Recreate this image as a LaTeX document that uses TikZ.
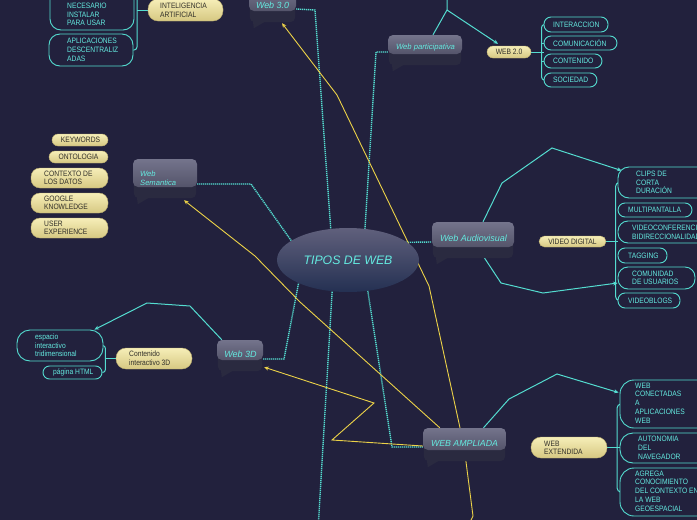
\documentclass[tikz,border=0pt]{standalone}
\usepackage{fontspec}
\setmainfont{Liberation Sans}
\newfontfamily\smallfont[FakeStretch=0.86]{Liberation Sans}
\usetikzlibrary{arrows.meta,shapes.geometric,calc,fit}
\pgfdeclarelayer{back}
\pgfdeclarelayer{lines}
\pgfdeclarelayer{bubbles}
\pgfsetlayers{back,lines,bubbles,main}
\definecolor{bgc}{RGB}{34,33,61}
\definecolor{cyline}{RGB}{84,220,208}
\definecolor{cytxt}{RGB}{100,234,224}
\definecolor{ylc}{RGB}{236,210,72}
\definecolor{pilltop}{RGB}{246,238,184}
\definecolor{pillbot}{RGB}{214,200,130}
\definecolor{pillline}{RGB}{190,176,112}
\definecolor{pilltxt}{RGB}{48,46,40}
\definecolor{boxtop}{RGB}{116,116,140}
\definecolor{boxbot}{RGB}{84,84,106}
\definecolor{bubc}{RGB}{42,42,64}
\definecolor{elltop}{RGB}{96,96,124}
\definecolor{ellbot}{RGB}{36,48,82}
\newcommand\drawbubble[1]{%
  \fill[bubc, rounded corners=5pt] ($(#1.south west)+(1,-8)$) rectangle ($(#1.south east)+(-1,11)$);
  \fill[bubc] ($(#1.south west)+(4,9)$) -- ($(#1.south west)+(5,17)$) -- ($(#1.south west)+(17,10)$) -- cycle;}
\begin{document}
\begin{tikzpicture}[x=1pt,y=-1pt,
  ob/.style={draw=cyline, line width=0.9pt, fill=bgc, inner sep=0pt, rounded corners=#1},
  pl/.style={inner sep=0pt, top color=pilltop, bottom color=pillbot, draw=pillline, line width=0.4pt, rounded corners=#1},
  tb/.style={inner sep=0pt, top color=boxtop, bottom color=boxbot, rounded corners=5pt},
  st/.style={text=cytxt, inner sep=0pt, align=left, anchor=west, font=\smallfont\fontsize{7.8}{8.7}\selectfont},
  pt/.style={st, text=pilltxt},
  tt/.style={text=cytxt, inner sep=0pt, align=left, font=\itshape\fontsize{#1}{9}\selectfont},
  dotc/.style={cyline, line width=1.4pt, dash pattern=on 1.2pt off 0.8pt},
  solc/.style={cyline, line width=1pt},
  ylw/.style={ylc, line width=0.9pt},
  arr/.style={-{Stealth[length=4.5pt,width=4pt]}}
]
\useasboundingbox (0,0) rectangle (697,520);
\begin{pgfonlayer}{back}
\fill[bgc] (0,0) rectangle (697,520);
\end{pgfonlayer}

% ---------- central ellipse
\node[ellipse, minimum width=142, minimum height=64, inner sep=0pt,
      top color=elltop, bottom color=ellbot, text=cytxt,
      font=\itshape\fontsize{12.3}{12}\selectfont] (center) at (348,260) {TIPOS DE WEB};

% ---------- topic boxes
\node[tb, fit={(249,-12) (296,11)}] (web30) {};
\node[tt=8.9, anchor=center] (web30t) at (272.5,5.5) {Web 3.0};
\node[tb, fit={(388,35) (462,54)}] (webpart) {};
\node[tt=7.7, anchor=center] (webpartt) at (425.5,48) {Web participativa};
\node[tb, fit={(133,159) (197,187)}] (websem) {};
\node[tt=7.6, anchor=west] (websemt) at (140,178.5) {Web\\Semantica};
\node[tb, fit={(432,222) (514,247)}] (webav) {};
\node[tt=9, anchor=center] (webavt) at (473.5,238) {Web Audiovisual};
\node[tb, fit={(217,340) (263,360)}] (web3d) {};
\node[tt=9, anchor=center] (web3dt) at (240.5,354) {Web 3D};
\node[tb, fit={(423,428) (506,450)}] (webamp) {};
\node[tt=8.8, anchor=center] (webampt) at (464.5,443) {WEB AMPLIADA};

\begin{pgfonlayer}{bubbles}
\drawbubble{web30}
\drawbubble{webpart}
\drawbubble{websem}
\drawbubble{webav}
\drawbubble{web3d}
\drawbubble{webamp}
\end{pgfonlayer}

% ---------- Web 3.0 cluster (top left)
\node[pl=10pt, fit={(148,-1) (223,21)}] (intart) {};
\node[pt] (intartt) at (160,10.2) {INTELIGENCIA\\ARTIFICIAL};
\node[ob=11pt, fit={(50,-20) (134,30)}] (nec) {};
\node[st] (nect) at (67,14.5) {NECESARIO\\INSTALAR\\PARA USAR};
\node[ob=11pt, fit={(49,34) (133,66)}] (apl) {};
\node[st] (aplt) at (67,50) {APLICACIONES\\DESCENTRALIZ\\ADAS};

% ---------- WEB 2.0 cluster
\node[pl=6pt, fit={(487,46) (531,58)}] (web20) {};
\node[pt, anchor=center] (web20t) at (509,52) {WEB 2.0};
\node[ob=7pt, fit={(544,17) (608,32)}] (inter) {};
\node[st] (intert) at (553,24.5) {INTERACCION};
\node[ob=7pt, fit={(544,36) (617,50)}] (comu) {};
\node[st] (comut) at (553,43) {COMUNICACIÓN};
\node[ob=7pt, fit={(544,54) (602,68)}] (cont) {};
\node[st] (contt) at (553,61) {CONTENIDO};
\node[ob=7pt, fit={(544,73) (597,87)}] (soc) {};
\node[st] (soct) at (553,80) {SOCIEDAD};

% ---------- Web Semantica pills
\node[pl=6pt, fit={(52,134) (108,146)}] (kw) {};
\node[pt, anchor=center] (kwt) at (80.5,140) {KEYWORDS};
\node[pl=6pt, fit={(49,151) (108,163)}] (onto) {};
\node[pt, anchor=center] (ontot) at (78.5,157) {ONTOLOGIA};
\node[pl=9pt, fit={(31,168) (108,188)}] (ctx) {};
\node[pt] (ctxt) at (44,177.8) {CONTEXTO DE\\LOS DATOS};
\node[pl=9pt, fit={(31,193) (108,213)}] (ggl) {};
\node[pt] (gglt) at (44,202.8) {GOOGLE\\KNOWLEDGE};
\node[pl=9pt, fit={(31,218) (108,238)}] (ux) {};
\node[pt] (uxt) at (44,227.8) {USER\\EXPERIENCE};

% ---------- Video digital cluster
\node[pl=5.5pt, fit={(539,236) (606,247)}] (vd) {};
\node[pt, anchor=center] (vdt) at (572.5,241.5) {VIDEO DIGITAL};
\node[ob=11pt, fit={(618,167) (730,198)}] (clips) {};
\node[st] (clipst) at (636,182.5) {CLIPS DE\\CORTA\\DURACIÓN};
\node[ob=7pt, fit={(618,203) (692,217)}] (multi) {};
\node[st] (multit) at (628,210) {MULTIPANTALLA};
\node[ob=10pt, fit={(618,221) (740,243)}] (vconf) {};
\node[st] (vconft) at (632,232.5) {VIDEOCONFERENCIA\\BIDIRECCIONALIDAD};
\node[ob=7pt, fit={(618,248) (667,263)}] (tag) {};
\node[st] (tagt) at (628,255.5) {TAGGING};
\node[ob=10pt, fit={(618,267) (695,289)}] (comm) {};
\node[st] (commt) at (632,277.8) {COMUNIDAD\\DE USUARIOS};
\node[ob=7pt, fit={(618,293) (680,308)}] (vb) {};
\node[st] (vbt) at (628,300.5) {VIDEOBLOGS};

% ---------- Web 3D cluster
\node[pl=10pt, fit={(116,348) (192,369)}] (c3d) {};
\node[pt] (c3dt) at (129,358.5) {Contenido\\interactivo 3D};
\node[ob=13pt, fit={(17,330) (103,361)}] (esp) {};
\node[st] (espt) at (35,345.5) {espacio\\interactivo\\tridimensional};
\node[ob=6.5pt, fit={(43,366) (102,379)}] (pag) {};
\node[st] (pagt) at (53,372.5) {página HTML};

% ---------- Web extendida cluster
\node[pl=10pt, fit={(531,437) (607,458)}] (wext) {};
\node[pt] (wextt) at (544,447.8) {WEB\\EXTENDIDA};
\node[ob=14pt, fit={(620,380) (740,428)}] (webcon) {};
\node[st] (webcont) at (635,403) {WEB\\CONECTADAS\\A\\APLICACIONES\\WEB};
\node[ob=13pt, fit={(620,433) (740,463)}] (auto) {};
\node[st] (autot) at (638,448) {AUTONOMIA\\DEL\\NAVEGADOR};
\node[ob=14pt, fit={(620,468) (740,516)}] (agr) {};
\node[st] (agrt) at (635,491) {AGREGA\\CONOCIMIENTO\\DEL CONTEXTO  EN\\LA WEB\\GEOESPACIAL};

% ---------- free ends
\coordinate (wpj) at (447,10);
\coordinate (wptop) at (447,-6);
\coordinate (dbot) at (318,530);
\coordinate (ybot) at (466,530);

\begin{pgfonlayer}{lines}
% dotted connectors centre -> topics
\draw[dotc] ($(web30.east)+(0,9.5)$) -- (315,10) -- ($(center)+(-15,0)$);
\draw[dotc] ($(webpart.west)+(0,7.5)$) -- (376,52) -- ($(center)+(15,0)$);
\draw[dotc] ($(websem.east)+(0,11)$) -- (251,184) -- ($(center)+(-43,0)$);
\draw[dotc] ($(center)+(0,-17)$) -- ($(webav.west)+(0,7.5)$);
\draw[dotc] ($(web3d.east)+(0,9)$) -- (284,359) -- ($(center)+(-45,0)$);
\draw[dotc] ($(webamp.west)+(0,8)$) -- (392,447) -- ($(center)+(15,0)$);
\draw[dotc] ($(center)+(-14,0)$) -- (dbot);

% yellow relation lines
\draw[ylw, arr] ($(webamp.north)+(-4.5,0)$) -- (429,286) -- (337,95) -- ($(web30.south)+(9.5,12)$);
\draw[ylw, arr] ($(webamp.north west)+(17,0)$) -- (300,302) -- (255,256) -- ($(websem.south)+(19,13)$);
\draw[ylw, arr] ($(webamp.west)+(0,7)$) -- (332,440) -- (374,403) -- ($(web3d.south east)+(1,7)$);
\draw[ylw] (webamp.south) -- (473,516) -- (ybot);

% solid cyan branches
\draw[solc] ($(webpart.north)+(8,0)$) -- (wpj) -- (wptop);
\draw[solc, arr] (wpj) -- ($(web20.north)+(-11,-2)$);
\draw[solc, arr] ($(webav.north)+(10,0)$) -- (502,183) -- (552,148) -- ($(clips.north west)+(4,4)$);
\draw[solc, arr] ($(webav.south)+(9,7)$) -- (501,283) -- (543,293) -- ($(comm.west)+(0,5)$);
\draw[solc, arr] ($(web3d.north west)+(5,0)$) -- (190,306) -- (147,303) -- ($(esp.north east)+(-9,0)$);
\draw[solc, arr] ($(webamp.north)+(19,0)$) -- (509,399) -- (557,374) -- ($(webcon.north west)+(-1,13)$);

% brackets
\draw[solc] (intart.west) -- ++(-11,0);
\draw[solc, rounded corners=3pt] (137,-6) |- (apl.east);
\draw[solc] (web20.east) -- (web20.east -| inter.west);
\draw[solc, rounded corners=3pt] (inter.west) -- ++(-2,0) |- (soc.west);
\draw[solc] (comu.west) -- ++(-2,0);
\draw[solc] (cont.west) -- ++(-2,0);
\draw[solc] (vd.east) -- (vd.east -| clips.west);
\draw[solc, rounded corners=4pt] (clips.west) -- ++(-2,0) |- (vb.west);
\draw[solc] (c3d.west) -- ++(-11,0);
\draw[solc, rounded corners=3pt] (esp.east) -- ++(2,0) |- (pag.east);
\draw[solc] (wext.east) -- (wext.east -| webcon.west);
\draw[solc, rounded corners=4pt] (webcon.west) -- ++(-2.5,0) |- (agr.west);
\end{pgfonlayer}
\end{tikzpicture}
\end{document}
